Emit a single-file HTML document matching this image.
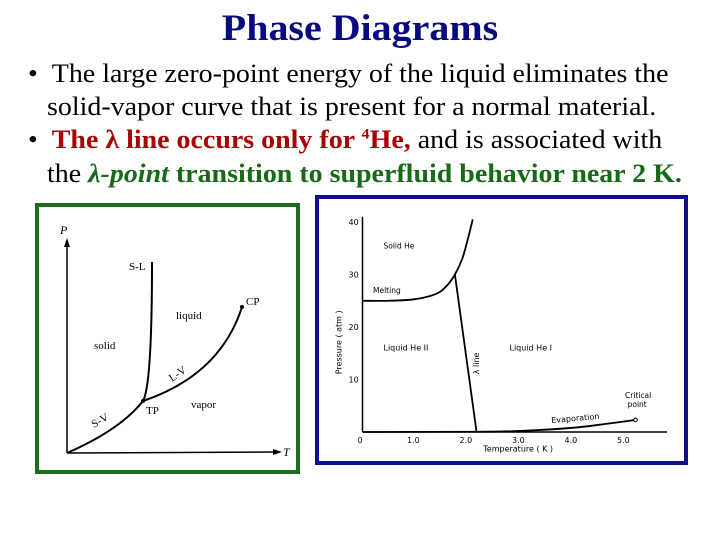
<!DOCTYPE html>
<html><head><meta charset="utf-8"><style>
body{margin:0;width:720px;height:540px;background:#fff;overflow:hidden;position:relative;font-family:"Liberation Serif",serif}
.t{position:absolute;white-space:nowrap;font-size:26px;line-height:1;color:#000;transform:scaleX(1.075);transform-origin:0 0}
</style></head><body>
<div style="position:absolute;left:0;width:720px;top:10px;text-align:center;font-size:37px;font-weight:bold;color:#0a0a80;line-height:1;transform:scaleX(1.08)">Phase Diagrams</div>
<div class="t" style="left:28px;top:61px">•&nbsp;&nbsp;The large zero-point energy of the liquid eliminates the</div>
<div class="t" style="left:47px;top:94px">solid-vapor curve that is present for a normal material.</div>
<div class="t" style="left:28px;top:127px">•&nbsp;&nbsp;<b style="color:#a00">The λ line occurs only for <sup style="font-size:15px">4</sup>He,</b> and is associated with</div>
<div class="t" style="left:47px;top:161px">the <b style="color:#186a18"><i>λ-point</i> transition to superfluid behavior near 2 K.</b></div>

<svg width="720" height="540" style="position:absolute;left:0;top:0" font-family="Liberation Serif,serif">
<g>
<rect x="37" y="205" width="261" height="267" fill="#fff" stroke="#1d6b1d" stroke-width="4"/>
<line x1="67" y1="453" x2="67" y2="244" stroke="#000" stroke-width="1.5"/>
<polygon points="67,238 64,247 70,247" fill="#000"/>
<line x1="67" y1="453" x2="276" y2="452" stroke="#000" stroke-width="1.5"/>
<polygon points="282,452 273,449 273,455" fill="#000"/>
<text x="60" y="234" font-size="12" font-style="italic">P</text>
<text x="283" y="456" font-size="12" font-style="italic">T</text>
<path d="M67,453 Q120,430 143,401" fill="none" stroke="#000" stroke-width="2"/>
<path d="M143,401 Q152,385 152,262" fill="none" stroke="#000" stroke-width="2"/>
<path d="M143,401 Q220,375 242,307" fill="none" stroke="#000" stroke-width="2"/>
<circle cx="143" cy="401" r="2" fill="#000"/><circle cx="242" cy="307" r="2" fill="#000"/>
<text x="129" y="270" font-size="11">S-L</text>
<text x="246" y="305" font-size="11">CP</text>
<text x="176" y="319" font-size="11">liquid</text>
<text x="94" y="349" font-size="11">solid</text>
<text x="146" y="414" font-size="11">TP</text>
<text x="191" y="408" font-size="11">vapor</text>
<text x="172" y="382" font-size="11" transform="rotate(-35 172 382)">L-V</text>
<text x="94" y="428" font-size="11" transform="rotate(-30 94 428)">S-V</text>
</g>
<g font-family="DejaVu Sans,sans-serif">
<rect x="317" y="197" width="369" height="266" fill="#fff" stroke="#10108a" stroke-width="4"/>
<g id="he"></g>
</g>
</svg>
<script>
const xTicks=[0,1,2,3,4,5];
const xTickLabels=["0","1.0","2.0","3.0","4.0","5.0"];
const yTicks=[10,20,30,40];
const yTickLabels=["10","20","30","40"];
const meltT=[0,0.5,1.0,1.4,1.6,1.76,1.9,2.0,2.1];
const meltP=[25,25,25.3,26.3,27.8,30,33,36.5,40.5];
const lambdaT=[1.76,2.17];
const lambdaP=[30,0.2];
const evapT=[0,2.2,3,4,4.6,5.2];
const evapP=[0,0.05,0.2,0.8,1.5,2.3];
const X=t=>362.5+t*52.5, Y=p=>432-p*5.25;
const ns="http://www.w3.org/2000/svg", g=document.getElementById('he');
function mk(tag,a){const e=document.createElementNS(ns,tag);for(const k in a)e.setAttribute(k,a[k]);g.appendChild(e);return e;}
let e=mk('line',{x1:X(0),y1:Y(0),x2:X(5.8),y2:Y(0),stroke:'#000','stroke-width':1.5});

e=mk('line',{x1:X(0),y1:Y(0),x2:X(0),y2:Y(41),stroke:'#000','stroke-width':1.5});

xTicks.forEach((t,i)=>{const el=mk('text',{x:X(t)-(t?8:5),y:Y(0)+11,'font-size':8});el.textContent=xTickLabels[i];
});
yTicks.forEach((p,i)=>{const el=mk('text',{x:X(0)-14,y:Y(p)+3,'font-size':8});el.textContent=yTickLabels[i];
});
function line(ts,ps,name){
const pts=ts.map((t,i)=>[X(t),Y(ps[i])]);
let d='M'+pts[0][0]+','+pts[0][1];
for(let i=0;i<pts.length-1;i++){const p0=pts[Math.max(0,i-1)],p1=pts[i],p2=pts[i+1],p3=pts[Math.min(pts.length-1,i+2)];
d+=` C${p1[0]+(p2[0]-p0[0])/6},${p1[1]+(p2[1]-p0[1])/6} ${p2[0]-(p3[0]-p1[0])/6},${p2[1]-(p3[1]-p1[1])/6} ${p2[0]},${p2[1]}`;}
const el=mk('path',{d:d,fill:'none',stroke:'#000','stroke-width':1.8,'stroke-linejoin':'round'});
}
line(meltT,meltP,'melting-curve');line(lambdaT,lambdaP,'lambda-line');line(evapT,evapP,'evaporation-curve');
const labels=[["Solid He",0.4,35,7.5,0],["Melting",0.2,26.5,7.5,0],["Liquid He II",0.4,15.5,8,0],["Liquid He I",2.8,15.5,8,0],
["Evaporation",3.6,1.7,8,-5],["Critical",5.0,6.5,7.5,0],["point",5.05,4.8,7.5,0],["Temperature ( K )",2.3,-3.7,8,0]];
labels.forEach(l=>{const el=mk('text',{x:X(l[1]),y:Y(l[2]),'font-size':l[3],transform:`rotate(${l[4]} ${X(l[1])} ${Y(l[2])})`});el.textContent=l[0];
});
e=mk('text',{x:X(-0.4),y:Y(11),'font-size':8,transform:`rotate(-90 ${X(-0.4)} ${Y(11)})`});e.textContent='Pressure ( atm )';

e=mk('text',{x:X(2.22),y:Y(11),'font-size':8,transform:`rotate(-90 ${X(2.22)} ${Y(11)})`});e.textContent='λ line';

e=mk('circle',{cx:X(5.2),cy:Y(2.3),r:1.8,fill:'#fff',stroke:'#000'});

</script>
</body></html>
